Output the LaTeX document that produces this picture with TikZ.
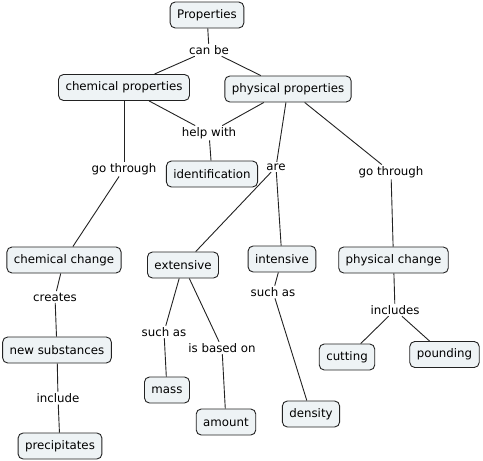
\documentclass[tikz,border=0pt]{standalone}
\usepackage{fontspec}
\setmainfont{DejaVu Sans}
\definecolor{cfill}{HTML}{EEF3F5}
\definecolor{cline}{HTML}{222222}
\begin{document}
\begin{tikzpicture}[x=1pt,y=-1pt,
  concept/.style={draw=cline,fill=cfill,rounded corners=5pt,line width=0.9pt,
    inner xsep=7pt,minimum height=26pt,font=\fontsize{11.8}{13}\selectfont},
  lab/.style={inner sep=1.5pt,font=\fontsize{11.8}{13}\selectfont},
  conn/.style={draw=cline,line width=0.9pt}]
\useasboundingbox (0,0) rectangle (483,461);
% concepts
\node[concept] (prop) at (207,15) {Properties};
\node[concept] (chem) at (124,87.5) {chemical properties};
\node[concept] (phys) at (288,89) {physical properties};
\node[concept] (ident) at (212,174) {identification};
\node[concept] (cchg) at (64,260) {chemical change};
\node[concept] (ext) at (183,265) {extensive};
\node[concept] (int) at (282,259) {intensive};
\node[concept] (pchg) at (393.5,260) {physical change};
\node[concept] (news) at (57,350) {new substances};
\node[concept] (prec) at (60,446) {precipitates};
\node[concept] (mass) at (167,390) {mass};
\node[concept] (amt) at (226,422) {amount};
\node[concept] (dens) at (311,414) {density};
\node[concept] (cut) at (347,357) {cutting};
\node[concept] (pound) at (444.5,354.5) {pounding};
% labels
\node[lab] (canbe) at (209,50) {can be};
\node[lab] (help) at (209,133) {help with};
\node[lab] (gt1) at (124,169) {go through};
\node[lab] (are) at (276,167) {are};
\node[lab] (gt2) at (391,172) {go through};
\node[lab] (creates) at (55,297) {creates};
\node[lab] (include) at (58,398) {include};
\node[lab] (such1) at (164,332) {such as};
\node[lab] (based) at (222,348) {is based on};
\node[lab] (such2) at (273,292) {such as};
\node[lab] (incl) at (395,310) {includes};
% connectors
\draw[conn] (prop) -- (canbe);
\draw[conn] (canbe) -- (chem);
\draw[conn] (canbe) -- (phys);
\draw[conn] (chem) -- (help);
\draw[conn] (phys) -- (help);
\draw[conn] (help) -- (ident);
\draw[conn] (chem) -- (gt1);
\draw[conn] (gt1) -- (cchg);
\draw[conn] (phys) -- (are);
\draw[conn] (are) -- (ext);
\draw[conn] (are) -- (int);
\draw[conn] (phys) -- (gt2);
\draw[conn] (gt2) -- (pchg);
\draw[conn] (cchg) -- (creates);
\draw[conn] (creates) -- (news);
\draw[conn] (news) -- (include);
\draw[conn] (include) -- (prec);
\draw[conn] (ext) -- (such1);
\draw[conn] (such1) -- (mass);
\draw[conn] (ext) -- (based);
\draw[conn] (based) -- (amt);
\draw[conn] (int) -- (such2);
\draw[conn] (such2) -- (dens);
\draw[conn] (pchg) -- (incl);
\draw[conn] (incl) -- (cut);
\draw[conn] (incl) -- (pound);
\end{tikzpicture}
\end{document}
